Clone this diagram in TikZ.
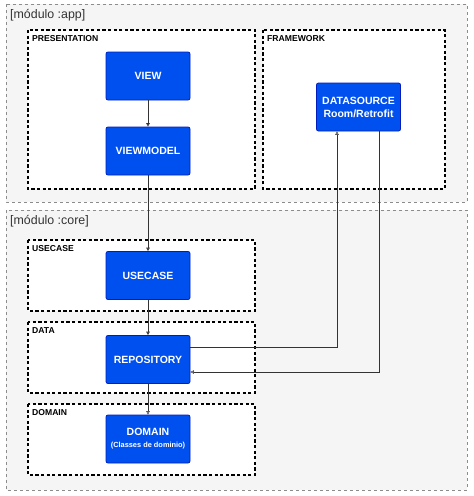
\documentclass[tikz,border=0pt]{standalone}
\usepackage{fontspec}
\setmainfont{Liberation Sans}
\usetikzlibrary{arrows.meta, calc}

\definecolor{blockblue}{HTML}{0050EF}
\definecolor{blockedge}{HTML}{001DBC}
\definecolor{modulefill}{HTML}{F5F5F5}
\definecolor{moduleedge}{HTML}{8C8C8C}
\definecolor{wire}{HTML}{333333}

\tikzset{
    modulebox/.style = {fill=modulefill, draw=moduleedge, line width=0.7pt, dash pattern=on 3pt off 3pt},
    layerbox/.style = {fill=white, draw=black, line width=1.2pt, dash pattern=on 3.2pt off 2.4pt},
    modulelabel/.style = {anchor=base west, inner sep=0pt, font=\fontsize{12.4}{14}\selectfont, text=wire},
    layerlabel/.style = {anchor=base west, inner sep=0pt, font=\fontsize{8.6}{10}\selectfont\bfseries},
    blockbox/.style = {fill=blockblue, draw=blockedge, line width=0.8pt, rounded corners=2pt,
        minimum width=84pt, minimum height=48pt, inner sep=1pt, text=white, align=center,
        font=\fontsize{10.5}{13}\selectfont\bfseries},
    wirearrow/.style = {draw=wire, line width=0.9pt, -{Triangle[open, length=3.5pt, width=3.5pt]}},
}

\begin{document}
\begin{tikzpicture}[x=1pt, y=-1pt]
    \useasboundingbox (0,0) rectangle (474,496);

    % modules
    \draw[modulebox] (6,4) rectangle (467,202);
    \node[modulelabel] (applbl) at (10,18) {[módulo :app]};
    \draw[modulebox] (6,210) rectangle (467,490);
    \node[modulelabel] (corelbl) at (10,224) {[módulo :core]};

    % layers
    \draw[layerbox] (28,30) rectangle (255,189);
    \node[layerlabel] (presentlbl) at (32,41) {PRESENTATION};
    \draw[layerbox] (263,30) rectangle (445,189);
    \node[layerlabel] (frameworklbl) at (267,41) {FRAMEWORK};
    \draw[layerbox] (28,240) rectangle (255,311);
    \node[layerlabel] (usecaselbl) at (32,251.5) {USECASE};
    \draw[layerbox] (28,322) rectangle (255,393);
    \node[layerlabel] (datalbl) at (32,333.5) {DATA};
    \draw[layerbox] (28,404) rectangle (255,475);
    \node[layerlabel] (domainlbl) at (32,415.5) {DOMAIN};

    % blocks
    \node[blockbox] (view) at (148,76) {VIEW};
    \node[blockbox] (viewmodel) at (148,151) {VIEWMODEL};
    \node[blockbox] (datasource) at (358.5,107) {DATASOURCE\\Room/Retrofit};
    \node[blockbox] (usecase) at (148,275.5) {USECASE};
    \node[blockbox] (repo) at (148,359.5) {REPOSITORY};
    \node[blockbox] (domain) at (148,439) {DOMAIN\\[-1pt]{\fontsize{7.4}{9}\selectfont (Classes de dominio)}};

    % dependencies
    \draw[wirearrow] (view) -- (viewmodel);
    \draw[wirearrow] (viewmodel) -- (usecase);
    \draw[wirearrow] (usecase) -- (repo);
    \draw[wirearrow, line width=0.6pt] (repo) -- (domain);
    \draw[wirearrow, line width=0.6pt] ([yshift=12.5pt]repo.east) -| ([xshift=-21.5pt]datasource.south);
    \draw[wirearrow, line width=0.6pt] ([xshift=20.5pt]datasource.south) |- ([yshift=-12.5pt]repo.east);
\end{tikzpicture}
\end{document}
